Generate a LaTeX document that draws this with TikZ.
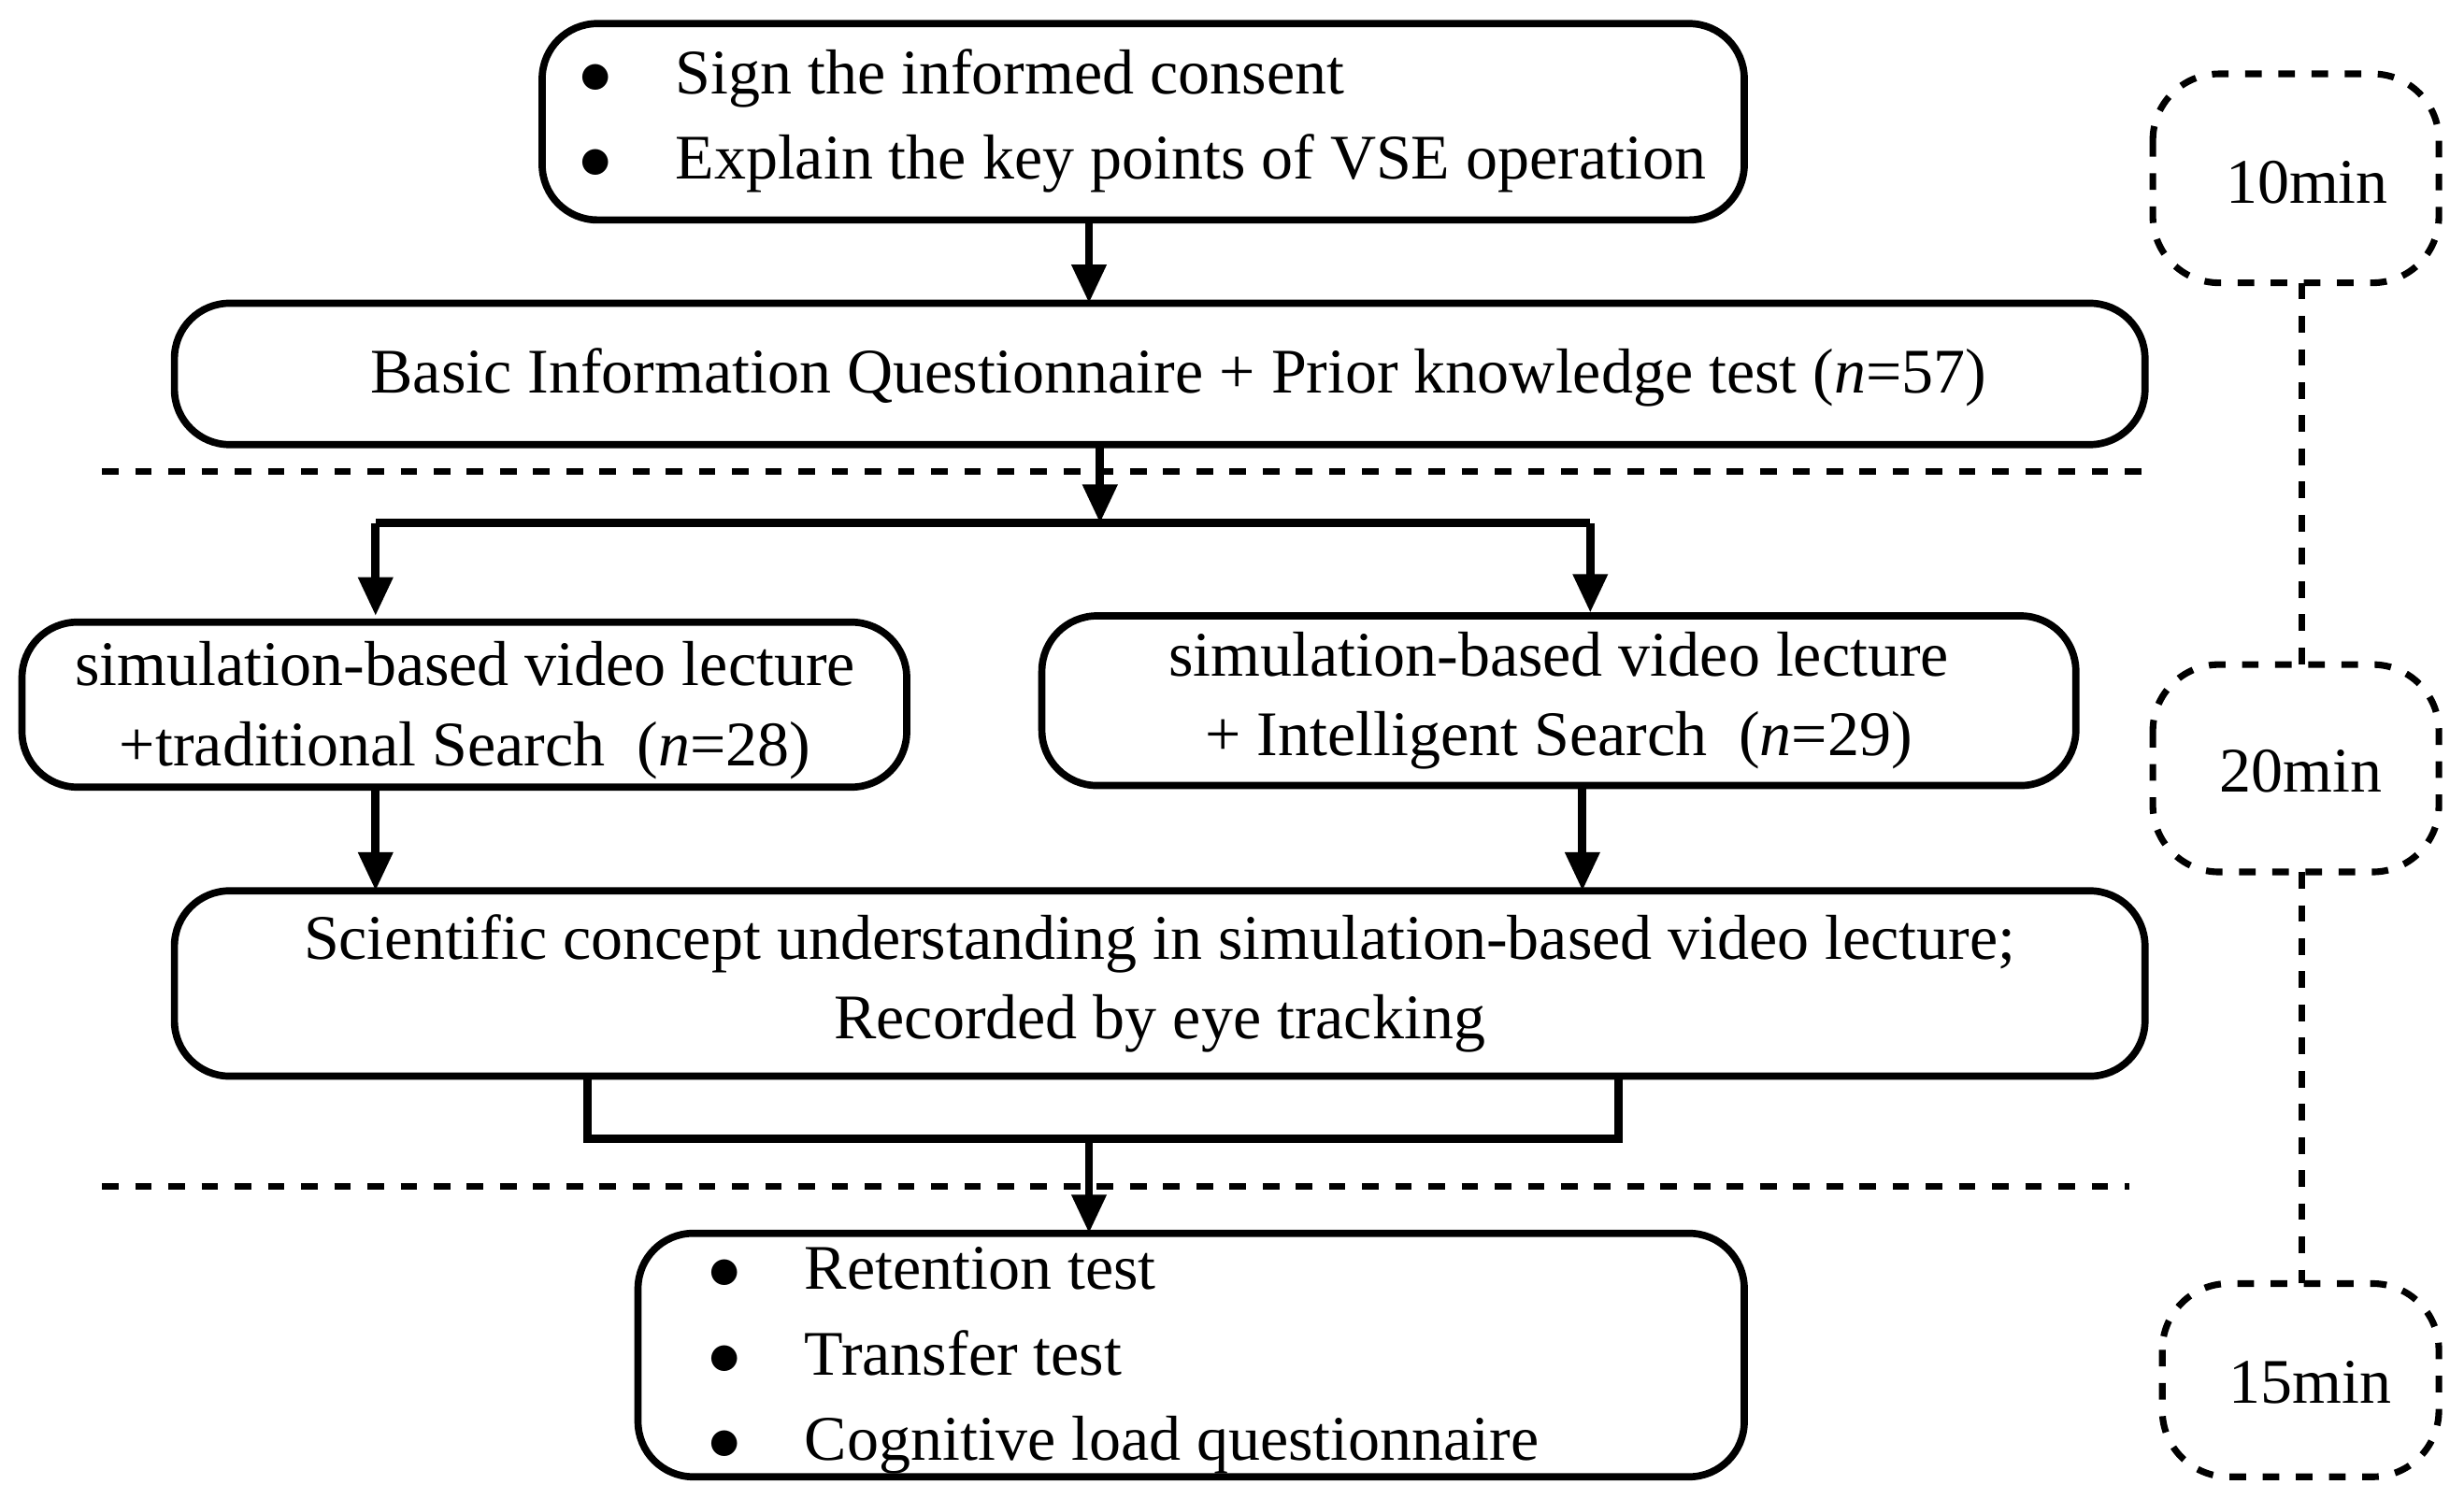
\documentclass[tikz,border=0pt]{standalone}
\usepackage{fontspec}
\setmainfont{Liberation Serif}
\usetikzlibrary{arrows.meta}
\begin{document}
\begin{tikzpicture}[x=0.01cm,y=-0.01cm,
    box/.style={draw,line width=1.3pt,rounded corners=10pt},
    tbox/.style={draw,line width=1.2pt,dashed,rounded corners=12pt},
    arr/.style={line width=1.5pt,-{Triangle[length=7pt,width=6pt]}},
    txt/.style={font=\fontsize{11.5}{14.5}\selectfont,align=center}]
    \useasboundingbox (0,0) rectangle (1568,954);

    % Main boxes
    \draw[box] (345,15) rectangle (1110,140);
    \node[txt,align=left] (consent) at (727,77) {$\bullet$\quad Sign the informed consent\\[1pt]$\bullet$\quad Explain the key points of VSE operation};
    \draw[box] (111,193) rectangle (1365,283);
    \node[txt] (basic) at (750,240) {Basic Information Questionnaire + Prior knowledge test (\textit{n}=57)};
    \draw[box] (14,396) rectangle (577,501);
    \node[txt] (trad) at (296,452) {simulation-based video lecture\\+traditional Search\enspace(\textit{n}=28)};
    \draw[box] (663,392) rectangle (1321,500);
    \node[txt] (intel) at (992,446) {simulation-based video lecture\\+ Intelligent Search\enspace(\textit{n}=29)};
    \draw[box] (111,567) rectangle (1365,685);
    \node[txt] (sci) at (738,626) {Scientific concept understanding in simulation-based video lecture;\\Recorded by eye tracking};
    \draw[box] (406,785) rectangle (1110,940);
    \node[txt,align=left] (tests) at (715,866) {$\bullet$\quad Retention test\\[1pt]$\bullet$\quad Transfer test\\[1pt]$\bullet$\quad Cognitive load questionnaire};

    % Time boxes
    \draw[tbox] (1370,47) rectangle (1552,180);
    \node[txt] (t10) at (1468,116) {10min};
    \draw[tbox] (1370,423) rectangle (1552,555);
    \node[txt] (t20) at (1464,491) {20min};
    \draw[tbox] (1376,817) rectangle (1552,940);
    \node[txt] (t15) at (1470,880) {15min};
    \draw[line width=1.2pt,dashed] (1465,180) -- (1465,423);
    \draw[line width=1.2pt,dashed] (1465,555) -- (1465,817);

    % Phase separators
    \draw[line width=1.2pt,dashed] (65,300) -- (1365,300);
    \draw[line width=1.2pt,dashed] (65,755) -- (1355,755);

    % Connectors
    \draw[arr] (693,140) -- (693,193);
    \draw[arr] (700,283) -- (700,333);
    \draw[line width=1.5pt] (239,333) -- (1012,333);
    \draw[arr] (239,333) -- (239,392);
    \draw[arr] (1012,333) -- (1012,390);
    \draw[arr] (239,501) -- (239,567);
    \draw[arr] (1007,500) -- (1007,567);
    \draw[line width=1.5pt] (374,685) -- (374,725) -- (1030,725) -- (1030,685);
    \draw[arr] (693,725) -- (693,785);
\end{tikzpicture}
\end{document}
